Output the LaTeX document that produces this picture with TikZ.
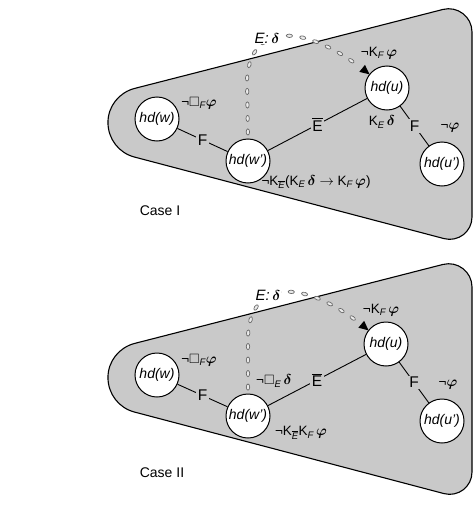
\documentclass[tikz,border=0pt]{standalone}
\usepackage{fontspec}
\setmainfont{Liberation Sans}
\usepackage{amsmath,amssymb}
\usetikzlibrary{decorations.markings}
\definecolor{bgc}{RGB}{201,201,201}
\definecolor{dotline}{RGB}{105,105,105}
\definecolor{dotfill}{RGB}{235,235,235}
\newcommand\sbs[1]{\textsubscript{\itshape #1}}
\newcommand\ebar{\ensuremath{\overline{\mbox{E}}}}
\newcommand\iebar{\ensuremath{\overline{\mbox{\itshape E}}}}
\newcommand\dlt{\ensuremath{\boldsymbol{\delta}}}
\newcommand\vph{\ensuremath{\boldsymbol{\varphi}}}
\newcommand\bx{\ensuremath{\Box}}
\begin{document}
\begin{tikzpicture}[x=1pt,y=-1pt,
  world/.style={circle, draw, line width=1pt, fill=white, minimum size=44pt, inner sep=0pt, font=\fontsize{14}{16}\selectfont\itshape},
  lbl/.style={fill=bgc, inner sep=1.5pt, font=\fontsize{15.5}{17}\selectfont},
  fml/.style={inner sep=0pt, font=\fontsize{13.5}{15}\selectfont},
  big/.style={fill=white, inner sep=1pt, font=\fontsize{15}{17}\selectfont},
  casel/.style={inner sep=0pt, font=\fontsize{14}{16}\selectfont},
  regionstyle/.style={draw, line width=1.1pt, fill=bgc},
  link/.style={line width=0.9pt},
  dotpath/.style={postaction={decorate}, decoration={markings,
     mark=between positions 0.03 and 0.92 step 13.5pt with {\draw[dotline, fill=dotfill, line width=0.7pt] (0,0) ellipse (3.1pt and 1.7pt);},
     mark=at position 0.999 with {\fill[black] (0.5pt,0) -- (-9pt,4.5pt) -- (-9pt,-4.5pt) -- cycle;}}},
  region/.pic={
    \path[regionstyle] (134.7,88.4) -- (442.9,9.45)
      .. controls (457.6,5.7) and (472,16.8) .. (472,32)
      -- (472,217)
      .. controls (472,231.7) and (458.2,242.3) .. (444,238.6)
      -- (134.3,157)
      .. controls (118.7,152.9) and (107.95,138.7) .. (107.95,122.5)
      .. controls (107.95,106.3) and (119.05,92.4) .. (134.7,88.4) -- cycle;
  }]
\useasboundingbox (0,0) rectangle (474,506);
\clip (0,0) rectangle (474,506);

% ---------- Case I ----------
\pic at (0,0) {region};
\node[world] (w1) at (157,119) {hd(w)};
\node[world] (w1p) at (248,161) {hd(w')};
\node[world] (u1) at (387,88) {hd(u)};
\node[world] (u1p) at (442,164) {hd(u')};
\draw[link] (w1) -- node[lbl]{F} (w1p);
\draw[link] (w1p) -- node[lbl]{\ebar} (u1);
\draw[link] (u1) -- node[lbl]{F} (u1p);
\path[dotpath] (w1p.north) -- (247,80) .. controls (250,22) and (305,22) .. (u1.142);
\node[big] (e1) at (267,38) {\itshape E:\,\dlt};
\node[fml] (l1a) at (199,103) {¬\bx\sbs{F}\vph};
\node[fml] (l1b) at (382,122) {K\sbs{E}\,\dlt};
\node[fml] (l1c) at (379,53) {¬K\sbs{F}\,\vph};
\node[fml] (l1d) at (450,128) {¬\vph};
\node[fml] (l1e) at (316,182) {¬K\sbs{\iebar}(K\sbs{E}\,\dlt\;\(\rightarrow\) K\sbs{F}\,\vph)};
\node[casel] (c1) at (160,211) {Case I};

% ---------- Case II ----------
\pic at (0,255) {region};
\node[world] (w2) at (157,375) {hd(w)};
\node[world] (w2p) at (248,416) {hd(w')};
\node[world] (u2) at (386,344) {hd(u)};
\node[world] (u2p) at (442,421) {hd(u')};
\draw[link] (w2) -- node[lbl]{F} (w2p);
\draw[link] (w2p) -- node[lbl]{\ebar} (u2);
\draw[link] (u2) -- node[lbl]{F} (u2p);
\path[dotpath] (w2p.north) -- (248,336) .. controls (251,278) and (306,278) .. (u2.142);
\node[big] (e2) at (268,295) {\itshape E:\,\dlt};
\node[fml] (l2a) at (199,360) {¬\bx\sbs{F}\vph};
\node[fml] (l2b) at (274,381) {¬\bx\sbs{E}\,\dlt};
\node[fml] (l2c) at (381,310) {¬K\sbs{F}\,\vph};
\node[fml] (l2d) at (448,385) {¬\vph};
\node[fml] (l2e) at (301,433) {¬K\sbs{\iebar}K\sbs{F}\,\vph};
\node[casel] (c2) at (162,473) {Case II};
\end{tikzpicture}
\end{document}
